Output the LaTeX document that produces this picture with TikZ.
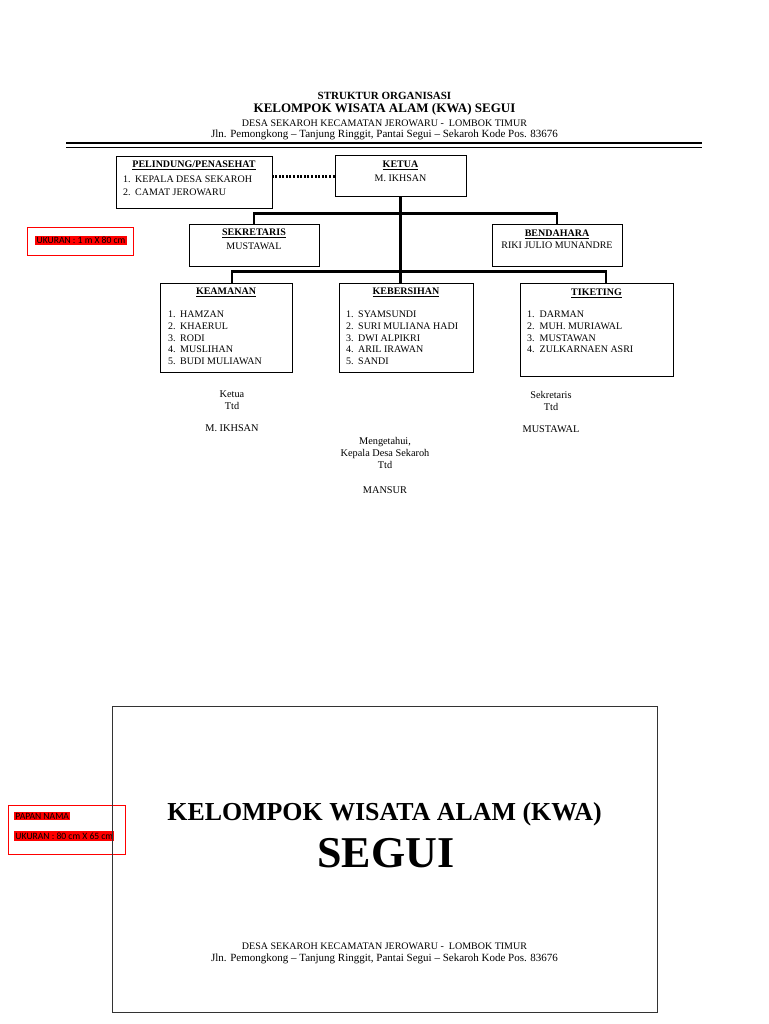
\documentclass[tikz,border=0pt]{standalone}
\usepackage{fontspec}
\setmainfont{Liberation Serif}
\newfontfamily\labfont{Carlito}
\begin{document}
\begin{tikzpicture}[x=1pt,y=-1pt,
  box/.style={draw=black,line width=1pt,rectangle,inner sep=0pt},
  conn/.style={draw=black,line width=2.2pt},
  boxtitle/.style={inner sep=0pt,font=\fontsize{10}{11.7}\selectfont\bfseries},
  boxtext/.style={inner sep=0pt,font=\fontsize{10}{11.7}\selectfont},
  listtext/.style={inner sep=0pt,anchor=north west,align=left,font=\fontsize{10}{11.7}\selectfont},
  sign/.style={inner sep=0pt,anchor=north,align=center,font=\fontsize{10.3}{12}\selectfont},
  redframe/.style={draw=red,line width=1pt,rectangle,inner sep=0pt},
  redlabel/.style={fill=red,text=black,inner sep=1.3pt,font=\labfont\fontsize{9.6}{10}\selectfont}
]
\useasboundingbox (0,0) rectangle (768,1024);

% header
\node[inner sep=0pt,font=\fontsize{11}{13}\selectfont\bfseries] (h1) at (384.5,96) {STRUKTUR ORGANISASI};
\node[inner sep=0pt,font=\fontsize{13}{15}\selectfont\bfseries] (h2) at (384.5,109) {KELOMPOK WISATA ALAM (KWA) SEGUI};
\node[inner sep=0pt,font=\fontsize{10}{12}\selectfont] (h3) at (384.5,123) {DESA SEKAROH KECAMATAN JEROWARU -\ \ LOMBOK TIMUR};
\node[inner sep=0pt,font=\fontsize{11}{13}\selectfont] (h4) at (384.5,135) {Jln. Pemongkong -- Tanjung Ringgit, Pantai Segui -- Sekaroh Kode Pos. 83676};
\coordinate (rl) at (66,143);
\coordinate (rr) at (702,143);
\draw[line width=1.8pt] (rl) -- (rr);
\draw[line width=0.9pt] ([yshift=-4pt]rl) -- ([yshift=-4pt]rr);

% boxes
\node[box,minimum width=156,minimum height=52] (pel) at (194,183) {};
\node[box,minimum width=131,minimum height=41] (ketua) at (400.5,176.5) {};
\node[box,minimum width=130,minimum height=41] (sek) at (254,245.5) {};
\node[box,minimum width=130,minimum height=41] (ben) at (557,245.5) {};
\node[box,minimum width=132,minimum height=89] (kea) at (226,327.5) {};
\node[box,minimum width=134,minimum height=89] (keb) at (406,327.5) {};
\node[box,minimum width=153,minimum height=93] (tik) at (596.5,329.5) {};

% box texts
\node[boxtitle] (pelt) at (194,165) {\underline{PELINDUNG/PENASEHAT}};
\node[listtext] (pell) at (123,175.5) {\makebox[12pt][l]{1.}KEPALA DESA SEKAROH\\[1.3pt]\makebox[12pt][l]{2.}CAMAT JEROWARU};
\node[boxtitle] (ketuat) at (400.5,165) {\underline{KETUA}};
\node[boxtext] (ketuan) at (400.5,178) {M. IKHSAN};
\node[boxtitle] (sekt) at (254,233) {\underline{SEKRETARIS}};
\node[boxtext] (sekn) at (254,246) {MUSTAWAL};
\node[boxtitle] (bent) at (557,234) {\underline{BENDAHARA}};
\node[boxtext] (benn) at (557,245.5) {RIKI JULIO MUNANDRE};
\node[boxtitle] (keat) at (226,292.5) {\underline{KEAMANAN}};
\node[listtext] (keal) at (168,311) {\makebox[12pt][l]{1.}HAMZAN\\\makebox[12pt][l]{2.}KHAERUL\\\makebox[12pt][l]{3.}RODI\\\makebox[12pt][l]{4.}MUSLIHAN\\\makebox[12pt][l]{5.}BUDI MULIAWAN};
\node[boxtitle] (kebt) at (406,292.5) {\underline{KEBERSIHAN}};
\node[listtext] (kebl) at (346,311) {\makebox[12pt][l]{1.}SYAMSUNDI\\\makebox[12pt][l]{2.}SURI MULIANA HADI\\\makebox[12pt][l]{3.}DWI ALPIKRI\\\makebox[12pt][l]{4.}ARIL IRAWAN\\\makebox[12pt][l]{5.}SANDI};
\node[boxtitle] (tikt) at (596.5,293) {\underline{TIKETING}};
\node[listtext] (tikl) at (527,311) {\makebox[12.5pt][l]{1.}DARMAN\\\makebox[12.5pt][l]{2.}MUH. MURIAWAL\\\makebox[12.5pt][l]{3.}MUSTAWAN\\\makebox[12.5pt][l]{4.}ZULKARNAEN ASRI};

% connectors
\draw[black,line width=2.2pt,dash pattern=on 2pt off 1.6pt] (ketua.west) -- (ketua.west -| pel.east);
\draw[conn] (ketua.south) -- (ketua.south |- keb.north);
\draw[conn] (sek.north) -- ++(0,-11) -| (ben.north);
\draw[conn] ([xshift=6pt]kea.north) -- ++(0,-11) -| ([xshift=9.5pt]tik.north);

% signatures
\node[sign] (sig1) at (232,391) {Ketua\\Ttd\\[10pt]M. IKHSAN};
\node[sign] (sig2) at (551,391) {Sekretaris\\Ttd\\[10pt]MUSTAWAL};
\node[sign] (sig3) at (385,437) {Mengetahui,\\Kepala Desa Sekaroh\\Ttd\\[13pt]MANSUR};

% red label 1
\node[redframe,minimum width=106,minimum height=27] (lab1) at (80,241.5) {};
\node[redlabel] (lab1t) at (81,240.5) {UKURAN : 1 m X 80 cm};

% red label 2
\node[redframe,minimum width=117,minimum height=49] (lab2) at (66.5,829.5) {};
\node[redlabel,anchor=west] (lab2a) at (14,816) {PAPAN NAMA};
\node[redlabel,anchor=west] (lab2b) at (14,836) {UKURAN : 80 cm X 65 cm};

% name board
\node[draw=black!80,line width=1pt,rectangle,minimum width=545,minimum height=306,inner sep=0pt] (papan) at (384.5,859) {};
\node[inner sep=0pt,font=\fontsize{25.9}{30}\selectfont\bfseries] (p1) at (384.5,814) {KELOMPOK WISATA ALAM (KWA)};
\node[inner sep=0pt,font=\fontsize{44}{50}\selectfont\bfseries] (p2) at (386,853) {SEGUI};
\node[inner sep=0pt,font=\fontsize{10}{12}\selectfont] (p3) at (384.5,946) {DESA SEKAROH KECAMATAN JEROWARU -\ \ LOMBOK TIMUR};
\node[inner sep=0pt,font=\fontsize{11}{13}\selectfont] (p4) at (384.5,959) {Jln. Pemongkong -- Tanjung Ringgit, Pantai Segui -- Sekaroh Kode Pos. 83676};
\end{tikzpicture}
\end{document}
